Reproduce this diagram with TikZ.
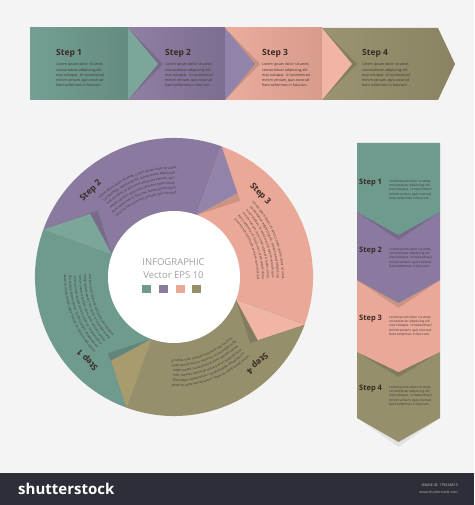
\documentclass[tikz,border=0pt]{standalone}
\usepackage{fontspec}
\setmainfont{Open Sans}
\usetikzlibrary{decorations.text,calc}
\definecolor{bgc}{HTML}{F4F4F4}
\definecolor{cteal}{HTML}{6F9B8F}
\definecolor{cpurple}{HTML}{8A7AA0}
\definecolor{cpink}{HTML}{EAA998}
\definecolor{colive}{HTML}{968F6C}
\definecolor{tteal}{HTML}{7BA699}
\definecolor{tpurple}{HTML}{9283AA}
\definecolor{tpink}{HTML}{F1B5A5}
\definecolor{tolive}{HTML}{A89B6E}
\definecolor{ttl}{HTML}{3A2A24}
\definecolor{txt}{HTML}{3E3432}
\definecolor{grayt}{HTML}{A0A0A0}
\definecolor{barc}{HTML}{2C2F38}
\newcommand\ringfont{\fontsize{3.2pt}{4pt}\selectfont}
\newcommand\ringline[4]{\path[decorate,decoration={text along path,text={|\ringfont|#4},text align=center,text color=txt}] ($(C)+({#1}:#3)$) arc[start angle={#1},end angle={#2},radius=#3];}
\newcommand\ringblock[1]{%
 \ringline{#1-20}{#1-78}{108}{Lorem ipsum dolor sit amet, Lorem ipsum dolor sit amet,}%
 \ringline{#1-20}{#1-78}{103}{consectetuer adipiscing elit, consectetuer adipiscing}%
 \ringline{#1-20}{#1-78}{98}{erat volutpat. Ut wisi enim ad minim veniam, quis}%
 \ringline{#1-20}{#1-78}{93}{minim veniam, quis nostrud exerci tation ullam}%
 \ringline{#1-20}{#1-78}{88}{fiant sollemnes in futurum. Lorem ipsum dolor}%
 \ringline{#1-20}{#1-78}{83}{Ut wisi enim ad minim veniam, quis nostrud}%
}
\newcommand\lorem{Lorem ipsum dolor sit amet,\\consectetuer adipiscing elit\\erat volutpat. Ut wisienimad\\minim veniam, quis nostrud\\fiant sollemnes in futurum.}
\begin{document}
\begin{tikzpicture}[x=1pt,y=1pt,
  btitle/.style={font=\bfseries\fontsize{8.5}{9}\selectfont,text=ttl,inner sep=0,anchor=west},
  blorem/.style={font=\fontsize{3.6}{5.2}\selectfont,text=txt,align=left,inner sep=0,anchor=north west},
  vtitle/.style={font=\bfseries\fontsize{7.5}{8}\selectfont,text=ttl,inner sep=0,anchor=west},
  vlorem/.style={font=\fontsize{3.2}{4.3}\selectfont,text=txt,align=left,inner sep=0,anchor=north west},
  rtitle/.style={font=\bfseries\fontsize{8.5}{9}\selectfont,text=ttl,inner sep=0},
  shad/.style={black,opacity=0.13},
  ctext/.style={font=\fontsize{9.5}{10}\selectfont,text=grayt,inner sep=0}]
\useasboundingbox (0,0) rectangle (474,505);
\fill[bgc] (0,0) rectangle (474,505);

% ---------- top banner ----------
\shade[left color=cteal!96!white,right color=cteal!90!black] (30,405) rectangle (128,477);
\shade[left color=cpurple!96!white,right color=cpurple!90!black] (128,405) rectangle (225,477);
\shade[left color=cpink!96!white,right color=cpink!92!black] (225,405) rectangle (322,477);
\shade[left color=colive!96!white,right color=colive!92!black] (322,405) -- (322,477) -- (438,477) -- (455,441) -- (438,405) -- cycle;
\foreach \x/\col in {128/tteal,225/tpurple,322/tpink}{
  \fill[shad] (\x,477) -- (\x+35,441) -- (\x,405) -- cycle;
  \fill[\col] (\x,477) -- (\x+30,441) -- (\x,405) -- cycle;
}
\foreach \n/\x in {1/56,2/165,3/262,4/362}{
  \node[btitle] (bt\n) at (\x,452) {Step \n};
  \node[blorem] (bl\n) at (\x,442) {\lorem};
}

% ---------- ring ----------
\coordinate (C) at (174,228);
\foreach \col/\a/\b in {cteal/250/160,cpurple/160/70,cpink/70/-20,colive/-20/-110}
  \fill[\col] (C) -- ($(C)+(\a:139)$) arc[start angle=\a,end angle=\b,radius=139] -- cycle;
\foreach \col/\b [evaluate=\b as \t using \b-17, evaluate=\b as \u using \b-21] in {tteal/160,tpurple/70,tpink/-20,tolive/-110}{
  \fill[shad] ($(C)+(\b:66)$) -- ($(C)+(\b:139)$) -- ($(C)+(\u:101)$) -- cycle;
  \fill[\col] ($(C)+(\b:66)$) -- ($(C)+(\b:139)$) -- ($(C)+(\t:105)$) -- cycle;
}
\fill[white] (C) circle[radius=66];
\foreach \n/\s [evaluate=\s as \ta using \s-26, evaluate=\s as \rot using \s-116] in {1/250,2/160,3/70,4/-20}
  \node[rtitle,rotate=\rot] (rt\n) at ($(C)+(\ta:119.5)$) {Step \n};
\ringblock{250}
\ringblock{160}
\ringblock{70}
\ringblock{-20}

% centre
\node[ctext] (info) at (173.5,243) {INFOGRAPHIC};
\node[ctext] (eps) at (173.5,230) {Vector EPS 10};
\fill[cteal] (142,212) rectangle (151,220);
\fill[cpurple] (159,212) rectangle (168,220);
\fill[cpink] (176,212) rectangle (185,220);
\fill[colive] (192,212) rectangle (201,220);

% ---------- vertical bar ----------
\fill[black,opacity=0.07] (357,87) -- (398.5,58) -- (440,87) -- cycle;
\fill[colive] (357,153) -- (440,153) -- (440,87) -- (398.5,63) -- (357,87) -- cycle;
\fill[shad] (357,153) -- (398.5,128) -- (440,153) -- cycle;
\fill[cpink] (357,225) -- (440,225) -- (440,153) -- (398.5,133) -- (357,153) -- cycle;
\fill[shad] (357,225) -- (398.5,197) -- (440,225) -- cycle;
\fill[cpurple] (357,293) -- (440,293) -- (440,225) -- (398.5,202) -- (357,225) -- cycle;
\fill[shad] (357,293) -- (398.5,265) -- (440,293) -- cycle;
\fill[cteal] (357,362) -- (440,362) -- (440,293) -- (398.5,270) -- (357,293) -- cycle;
\foreach \n/\y in {1/322,2/254,3/186,4/116}{
  \node[vtitle] (vt\n) at (359,\y) {Step \n};
  \node[vlorem] (vl\n) at (389,\y+3.5) {\lorem};
}

% ---------- bottom bar ----------
\fill[barc] (0,0) rectangle (474,32);
\node[font=\bfseries\fontsize{15}{16}\selectfont,text=white,inner sep=0,anchor=west] (logo) at (18,16) {shutterstock};
\node[font=\fontsize{3.6}{4}\selectfont,text=white!80!black,inner sep=0,anchor=east] (imgid) at (458,19.5) {IMAGE ID: 179334815};
\node[font=\fontsize{3.6}{4}\selectfont,text=white!70!black,inner sep=0,anchor=east] (www) at (458,13) {www.shutterstock.com};
\end{tikzpicture}
\end{document}
